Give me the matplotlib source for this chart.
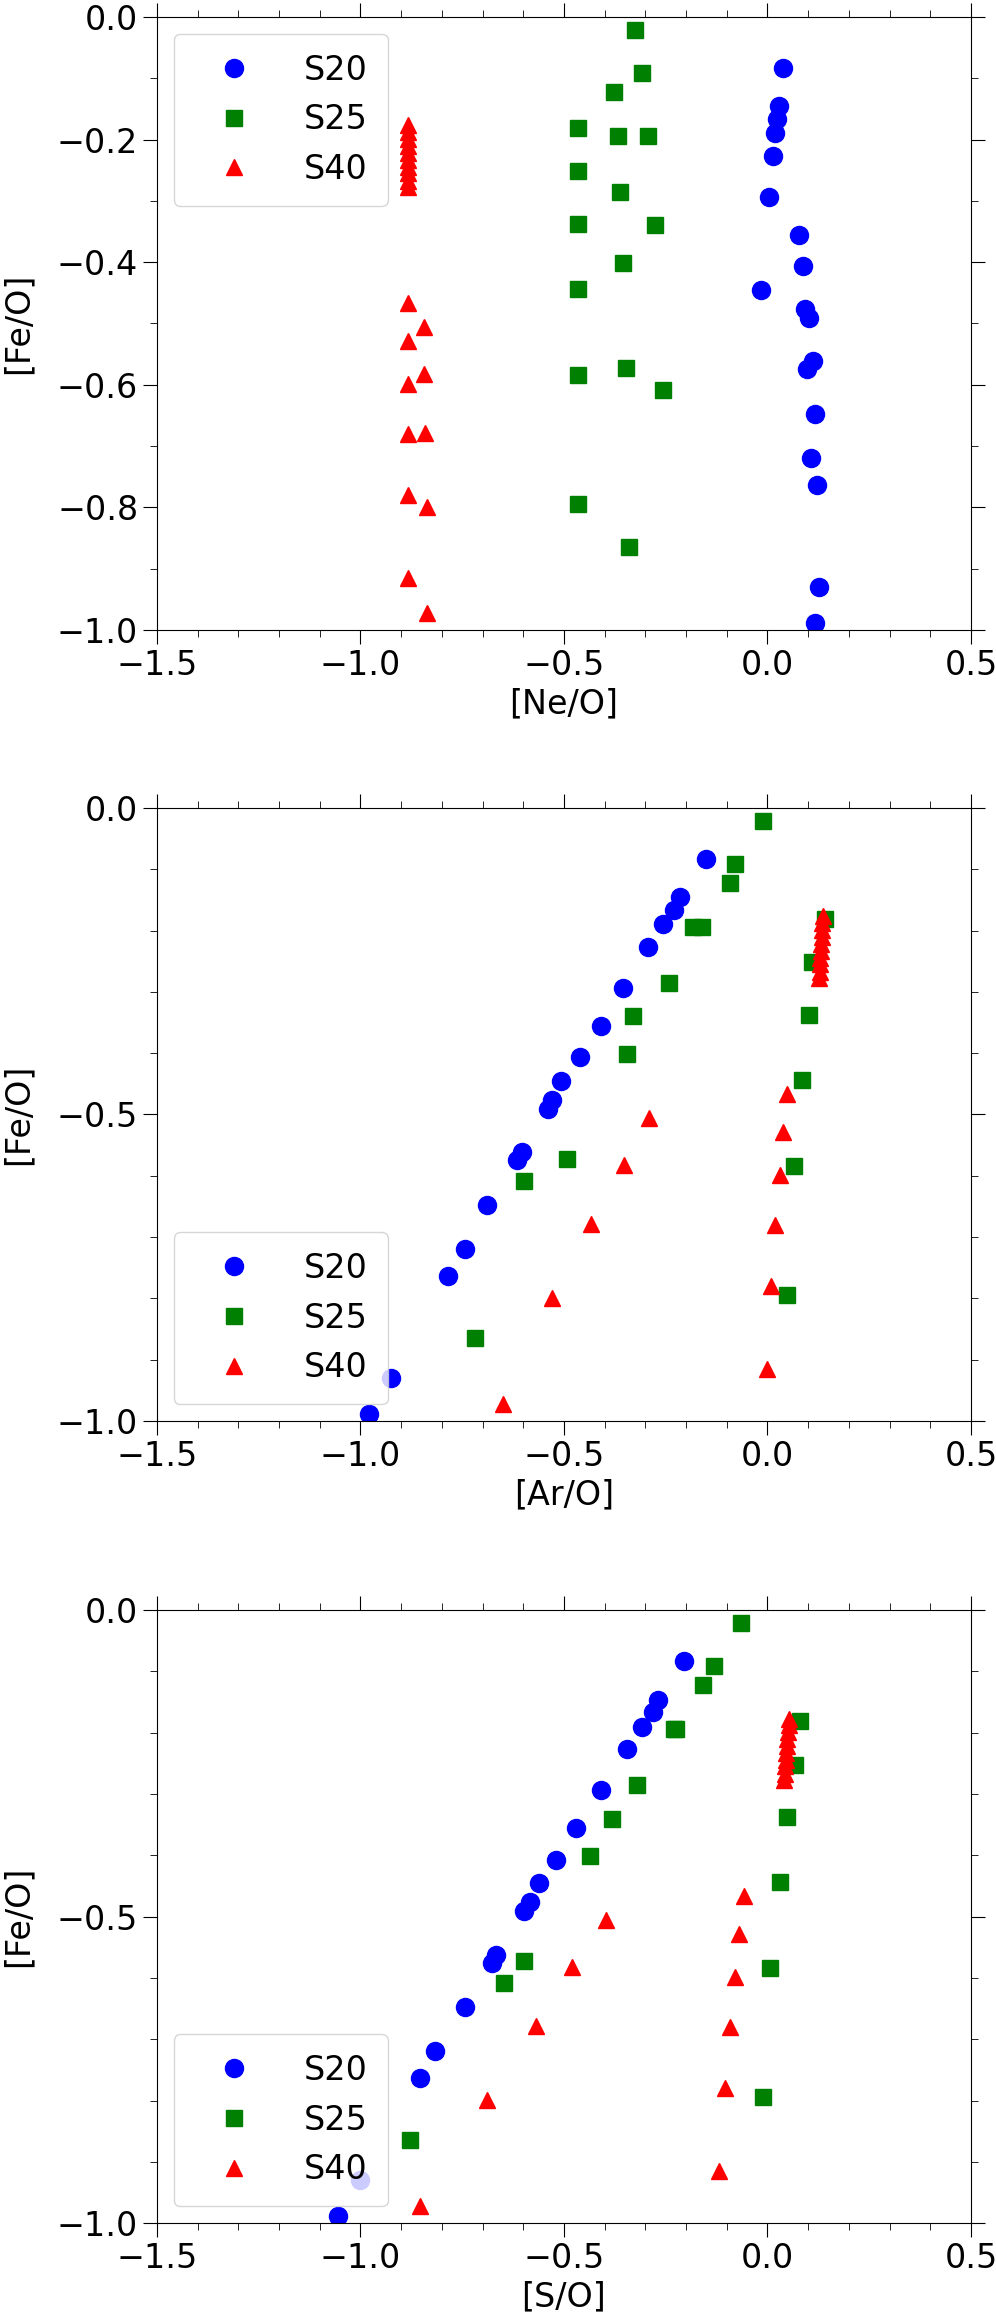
import matplotlib
matplotlib.use('Agg')
import matplotlib.pyplot as plt
from matplotlib.ticker import MultipleLocator

# [Fe/O] do S20 e as razoes nas tres abscissas
fe_s20 = [-0.083, -0.146, -0.166, -0.190, -0.227, -0.294, -0.356, -0.407, -0.446, -0.476,
          -0.491, -0.562, -0.575, -0.648, -0.719, -0.764, -0.930, -0.989]
ne_s20 = [0.039, 0.029, 0.023, 0.019, 0.014, 0.004, 0.078, 0.088, -0.015, 0.092,
          0.103, 0.111, 0.096, 0.117, 0.108, 0.121, 0.126, 0.116]
ar_s20 = [-0.152, -0.214, -0.230, -0.256, -0.294, -0.356, -0.408, -0.461, -0.508, -0.530,
          -0.539, -0.602, -0.616, -0.688, -0.744, -0.786, -0.925, -0.980]
s_s20 = [-0.206, -0.269, -0.281, -0.308, -0.344, -0.408, -0.470, -0.520, -0.561, -0.584,
         -0.598, -0.666, -0.678, -0.744, -0.816, -0.853, -1.000, -1.055]

# S25
fe_s25 = [-0.021, -0.092, -0.122, -0.181, -0.194, -0.194, -0.252, -0.285, -0.337, -0.340,
          -0.401, -0.443, -0.572, -0.584, -0.609, -0.794, -0.864]
ne_s25 = [-0.326, -0.308, -0.377, -0.466, -0.367, -0.294, -0.466, -0.363, -0.466, -0.276,
          -0.354, -0.466, -0.348, -0.466, -0.257, -0.466, -0.340]
ar_s25 = [-0.012, -0.081, -0.092, 0.141, -0.184, -0.161, 0.110, -0.242, 0.102, -0.331,
          -0.344, 0.086, -0.492, 0.066, -0.598, 0.048, -0.719]
s_s25 = [-0.064, -0.131, -0.159, 0.080, -0.230, -0.225, 0.068, -0.320, 0.048, -0.381,
         -0.436, 0.030, -0.598, 0.006, -0.648, -0.012, -0.878]

# S40
fe_s40 = [-0.177, -0.188, -0.199, -0.210, -0.222, -0.233, -0.244, -0.255, -0.267, -0.278,
          -0.467, -0.506, -0.528, -0.583, -0.598, -0.678, -0.680, -0.780, -0.799, -0.915, -0.972]
ne_s40 = [-0.884, -0.884, -0.884, -0.884, -0.884, -0.884, -0.884, -0.884, -0.884, -0.884,
          -0.884, -0.845, -0.884, -0.845, -0.884, -0.841, -0.884, -0.884, -0.837, -0.884, -0.837]
ar_s40 = [0.136, 0.135, 0.134, 0.133, 0.132, 0.131, 0.130, 0.129, 0.128, 0.127,
          0.048, -0.291, 0.039, -0.353, 0.030, -0.433, 0.019, 0.008, -0.530, 0.000, -0.650]
s_s40 = [0.053, 0.052, 0.050, 0.049, 0.047, 0.046, 0.045, 0.043, 0.042, 0.040,
         -0.058, -0.398, -0.069, -0.480, -0.081, -0.569, -0.091, -0.105, -0.688, -0.119, -0.853]

paineis = [
    ('[Ne/O]', ne_s20, ne_s25, ne_s40, 'upper left', 0.2),
    ('[Ar/O]', ar_s20, ar_s25, ar_s40, 'lower left', 0.5),
    ('[S/O]', s_s20, s_s25, s_s40, 'lower left', 0.5),
]
bottoms = [0.7288, 0.3883, 0.0430]

fig = plt.figure(figsize=(9.96, 23.23), dpi=100)

for (xlab, x20, x25, x40, loc, ymaj), b in zip(paineis, bottoms):
    ax = fig.add_axes([0.1576, b, 0.8173, 0.2639])
    ax.plot(x20, fe_s20, 'o', color='blue', markersize=13, label='S20')
    ax.plot(x25, fe_s25, 's', color='green', markersize=12, label='S25')
    ax.plot(x40, fe_s40, '^', color='red', markersize=12, label='S40')
    ax.set_xlim(-1.5, 0.5)
    ax.set_ylim(-1.0, 0.0)
    ax.xaxis.set_major_locator(MultipleLocator(0.5))
    ax.xaxis.set_minor_locator(MultipleLocator(0.1))
    ax.yaxis.set_major_locator(MultipleLocator(ymaj))
    ax.yaxis.set_minor_locator(MultipleLocator(0.1))
    ax.tick_params(which='both', direction='out', top=True, right=True, labelsize=24)
    ax.tick_params(which='major', length=10)
    ax.tick_params(which='minor', length=5)
    ax.set_xlabel(xlab, fontsize=24)
    ax.set_ylabel('[Fe/O]', fontsize=24)
    ax.yaxis.set_label_coords(-0.15, 0.5)
    ax.legend(loc=loc, fontsize=24, borderpad=0.6, handlelength=2.4, handletextpad=0.9)

fig.savefig('out.png', dpi=100)
